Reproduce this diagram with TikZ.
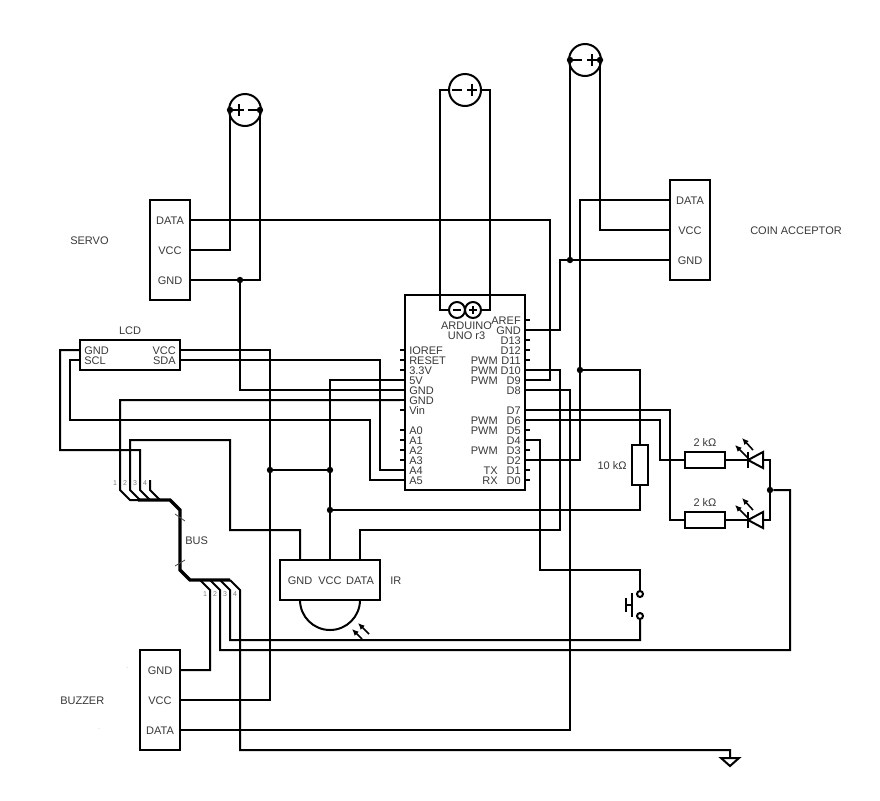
\documentclass[tikz,border=0pt]{standalone}
\usepackage{xcolor}
\usepackage{fontspec}
\setmainfont{Liberation Sans}
\usepackage{tikz}
\usetikzlibrary{arrows.meta}

\begin{document}
\begin{tikzpicture}[
    x=0.75pt, y=-0.75pt,
    wire/.style={line width=1.5pt, line join=miter},
    box/.style={draw, line width=1.5pt, inner sep=0pt},
    label/.style={inner sep=0pt, yshift=-0.75pt, text=black!78, font=\fontsize{8.25}{7.5}\selectfont},
    tiny/.style={inner sep=0pt, text=black!50, font=\fontsize{5.25}{6}\selectfont},
    dot/.style={circle, fill=black, inner sep=0pt, minimum size=4.8pt},
    source/.style={circle, draw, line width=1.5pt, inner sep=0pt, minimum size=24pt},
    smallsource/.style={circle, draw, line width=1.5pt, inner sep=0pt, minimum size=12pt},
    contact/.style={circle, draw, fill=white, line width=1.5pt, inner sep=0pt, minimum size=4.5pt},
    light/.style={-{Latex[length=5pt,width=4.5pt]}, line width=1.2pt},
    buswire/.style={line width=2.4pt, line join=miter},
    tick/.style={line width=0.6pt, draw=black!70}
]
    \useasboundingbox (0,0) rectangle (880,800);

    % Arduino
    \node[box, minimum width=90pt, minimum height=146.25pt] (arduino) at (465,392.5) {};
    \node[label, align=center] (arduinoname) at (466.5,330) {ARDUINO\\UNO r3};
    \foreach \pinname/\pintext/\y in {ioref/IOREF/350, reset/RESET/360, v33/3.3V/370, v5/5V/380,
        gnda/GND/390, gndb/GND/400, vin/Vin/410, a0/A0/430, a1/A1/440, a2/A2/450, a3/A3/460, a4/A4/470, a5/A5/480}{
        \coordinate (\pinname) at (400,\y);
        \draw[wire] (\pinname) -- (405,\y);
        \node[label, anchor=west] (\pinname text) at (409,\y) {\pintext};
    }
    \foreach \pinname/\pintext/\y in {aref/AREF/320, gndc/GND/330, d13/D13/340, d12/D12/350, d11/D11/360, d10/D10/370,
        d9/D9/380, d8/D8/390, d7/D7/410, d6/D6/420, d5/D5/430, d4/D4/440, d3/D3/450, d2/D2/460, d1/D1/470, d0/D0/480}{
        \coordinate (\pinname) at (530,\y);
        \draw[wire] (\pinname) -- (525,\y);
        \node[label, anchor=east] (\pinname text) at (521,\y) {\pintext};
    }
    \foreach \pinname/\pintext/\y in {p11/PWM/360, p10/PWM/370, p9/PWM/380, p6/PWM/420, p5/PWM/430, p3/PWM/450, tx/TX/470, rx/RX/480}{
        \node[label, anchor=east] (\pinname) at (498,\y) {\pintext};
    }
    \node[smallsource] (minus) at (457,310) {};
    \node[smallsource] (plus) at (473,310) {};
    \draw[wire] (453,310) -- (461,310);
    \draw[wire] (469,310) -- (477,310) (473,306) -- (473,314);

    % Servo
    \node[box, minimum width=30pt, minimum height=75pt] (servo) at (170,250) {};
    \node[label] (servodatatext) at (170,220) {DATA};
    \node[label] (servovcctext) at (170,250) {VCC};
    \node[label] (servogndtext) at (170,280) {GND};
    \node[label, anchor=west] (servoname) at (70,240) {SERVO};
    \coordinate (servodata) at (190,220);
    \coordinate (servovcc) at (190,250);
    \coordinate (servognd) at (190,280);

    % Coin acceptor
    \node[box, minimum width=30pt, minimum height=75pt] (coin) at (690,230) {};
    \node[label] (coindatatext) at (690,200) {DATA};
    \node[label] (coinvcctext) at (690,230) {VCC};
    \node[label] (coingndtext) at (690,260) {GND};
    \node[label, anchor=west] (coinname) at (750,230) {COIN ACCEPTOR};
    \coordinate (coindata) at (670,200);
    \coordinate (coinvcc) at (670,230);
    \coordinate (coingnd) at (670,260);

    % LCD
    \node[box, minimum width=75pt, minimum height=22.5pt] (lcd) at (130,355) {};
    \node[label] (lcdname) at (130,330) {LCD};
    \node[label, anchor=west] (lcdgndtext) at (84,350) {GND};
    \node[label, anchor=west] (lcdscltext) at (84,360) {SCL};
    \node[label, anchor=east] (lcdvcctext) at (176,350) {VCC};
    \node[label, anchor=east] (lcdsdatext) at (176,360) {SDA};
    \coordinate (lcdgnd) at (80,350);
    \coordinate (lcdscl) at (80,360);
    \coordinate (lcdvcc) at (180,350);
    \coordinate (lcdsda) at (180,360);

    % IR
    \node[box, minimum width=75pt, minimum height=30pt] (ir) at (330,580) {};
    \node[label] (irgndtext) at (300,580) {GND};
    \node[label] (irvcctext) at (330,580) {VCC};
    \node[label] (irdatatext) at (360,580) {DATA};
    \node[label, anchor=west] (irname) at (390,580) {IR};
    \coordinate (irgnd) at (300,560);
    \coordinate (irvcc) at (330,560);
    \coordinate (irdata) at (360,560);
    \coordinate (lensleft) at (300,600);
    \draw[wire] (lensleft) arc[start angle=180, end angle=360, radius=22.5pt];
    \draw[light] (362,639) -- (352,629);
    \draw[light] (369,634) -- (358,623);

    % Buzzer
    \node[box, minimum width=30pt, minimum height=75pt] (buzzer) at (160,700) {};
    \node[label] (buzzergndtext) at (160,670) {GND};
    \node[label] (buzzervcctext) at (160,700) {VCC};
    \node[label] (buzzerdatatext) at (160,730) {DATA};
    \node[label, anchor=west] (buzzername) at (60,700) {BUZZER};
    \node[tiny, text=black!35] (specka) at (127,668) {.};
    \node[tiny, text=black!25] (speckb) at (99,729) {.};
    \coordinate (buzzergnd) at (180,670);
    \coordinate (buzzervcc) at (180,700);
    \coordinate (buzzerdata) at (180,730);

    % Batteries
    \node[source] (batservo) at (245,110) {};
    \node[dot] (batservoa) at (230,110) {};
    \node[dot] (batservob) at (260,110) {};
    \draw[wire] (batservoa) -- (244,110) (239,104) -- (239,116);
    \draw[wire] (248,110) -- (batservob);

    \node[source] (batmid) at (465,90) {};
    \draw[wire] (452,90) -- (462,90);
    \draw[wire] (467,90) -- (477,90) (472,84) -- (472,96);

    \node[source] (batcoin) at (585,60) {};
    \node[dot] (batcoina) at (570,60) {};
    \node[dot] (batcoinb) at (600,60) {};
    \draw[wire] (batcoina) -- (582,60);
    \draw[wire] (587,60) -- (batcoinb) (592,54) -- (592,66);

    % Bus
    \draw[buswire] (138,500) -- (170,500) -- (180,510) -- (180,570) -- (190,580) -- (230,580);
    \draw[tick] (175,514) -- (185,521);
    \draw[tick] (175,566) -- (185,560);
    \node[label, anchor=west] (busname) at (185,540) {BUS};
    \foreach \num/\x in {1/115, 2/125, 3/135, 4/145}{
        \node[tiny] (topnum\num) at (\x,483) {\num};
    }
    \foreach \num/\x in {1/205, 2/215, 3/225, 4/235}{
        \node[tiny] (botnum\num) at (\x,594) {\num};
    }

    % Resistors
    \node[box, minimum width=12pt, minimum height=30pt] (rten) at (640,465) {};
    \node[label] (rtentext) at (612,465) {10 kΩ};
    \node[box, minimum width=30pt, minimum height=12pt] (rleda) at (705,460) {};
    \node[label] (rledatext) at (705,442) {2 kΩ};
    \node[box, minimum width=30pt, minimum height=12pt] (rledb) at (705,520) {};
    \node[label] (rledbtext) at (705,502) {2 kΩ};

    % LEDs
    \foreach \led/\y in {leda/460, ledb/520}{
        \coordinate (\led) at (748,\y);
        \coordinate (\led out) at (763,\y);
        \draw[wire] (748,\y-8) -- (748,\y+8);
        \draw[wire] (\led) -- (763,\y-8) -- (763,\y+8) -- cycle;
        \draw[light] (748,\y-2) -- (735,\y-15);
        \draw[light] (753,\y-10) -- (742,\y-22);
    }

    % Button
    \node[contact] (btntop) at (640,594) {};
    \node[contact] (btnbot) at (640,616) {};
    \draw[wire] (632,593) -- (632,617);
    \draw[wire] (632,605) -- (625.5,605);
    \draw[wire] (625.5,598) -- (625.5,612);

    % Ground
    \coordinate (earth) at (730,757);
    \draw[wire] (721,758) -- (739,758) -- (730,766) -- cycle;

    % Junctions
    \node[dot] (jservo) at (240,280) {};
    \node[dot] (jcoin) at (570,260) {};
    \node[dot] (jten) at (580,370) {};
    \node[dot] (jvcc) at (270,470) {};
    \node[dot] (jfive) at (330,470) {};
    \node[dot] (jlow) at (330,510) {};
    \node[dot] (jled) at (770,490) {};

    % Wires
    \draw[wire] (servodata) -- (550,220) -- (550,380) -- (d9);
    \draw[wire] (servovcc) -- (230,250) -- (batservoa);
    \draw[wire] (servognd) -- (260,280) -- (batservob);
    \draw[wire] (jservo) -- (240,390) -- (gnda);
    \draw[wire] (batmid) -- (440,90) -- (440,310) -- (minus);
    \draw[wire] (batmid) -- (490,90) -- (490,310) -- (plus);
    \draw[wire] (batcoina) -- (jcoin);
    \draw[wire] (batcoinb) -- (600,230) -- (coinvcc);
    \draw[wire] (coingnd) -- (560,260) -- (560,330) -- (gndc);
    \draw[wire] (coindata) -- (580,200) -- (580,460) -- (d2);
    \draw[wire] (jten) -- (640,370) -- (rten);
    \draw[wire] (rten) -- (640,510) -- (jlow);
    \draw[wire] (v5) -- (330,380) -- (irvcc);
    \draw[wire] (jvcc) -- (jfive);
    \draw[wire] (lcdvcc) -- (270,350) -- (270,700) -- (buzzervcc);
    \draw[wire] (lcdsda) -- (380,360) -- (380,470) -- (a4);
    \draw[wire] (lcdscl) -- (70,360) -- (70,420) -- (370,420) -- (370,480) -- (a5);
    \draw[wire] (lcdgnd) -- (60,350) -- (60,450) -- (140,450) -- (140,490) -- (150,500);
    \draw[wire] (gndb) -- (120,400) -- (120,490) -- (130,500) -- (140,500);
    \draw[wire] (irgnd) -- (300,530) -- (230,530) -- (230,440) -- (130,440) -- (130,490) -- (140,500);
    \draw[wire] (150,480) -- (150,490) -- (160,500);
    \draw[wire] (d10) -- (560,370) -- (560,530) -- (360,530) -- (irdata);
    \draw[wire] (d8) -- (570,390) -- (570,730) -- (buzzerdata);
    \draw[wire] (d7) -- (670,410) -- (670,520) -- (rledb);
    \draw[wire] (d6) -- (660,420) -- (660,460) -- (rleda);
    \draw[wire] (d4) -- (540,440) -- (540,570) -- (640,570) -- (btntop);
    \draw[wire] (btnbot) -- (640,640) -- (230,640) -- (230,590) -- (220,580);
    \draw[wire] (rleda) -- (leda);
    \draw[wire] (rledb) -- (ledb);
    \draw[wire] (ledaout) -- (770,460) -- (770,520) -- (ledbout);
    \draw[wire] (jled) -- (790,490) -- (790,650) -- (220,650) -- (220,590) -- (210,580);
    \draw[wire] (buzzergnd) -- (210,670) -- (210,590) -- (200,580);
    \draw[wire] (earth) -- (730,750) -- (240,750) -- (240,590) -- (230,580);
\end{tikzpicture}
\end{document}
